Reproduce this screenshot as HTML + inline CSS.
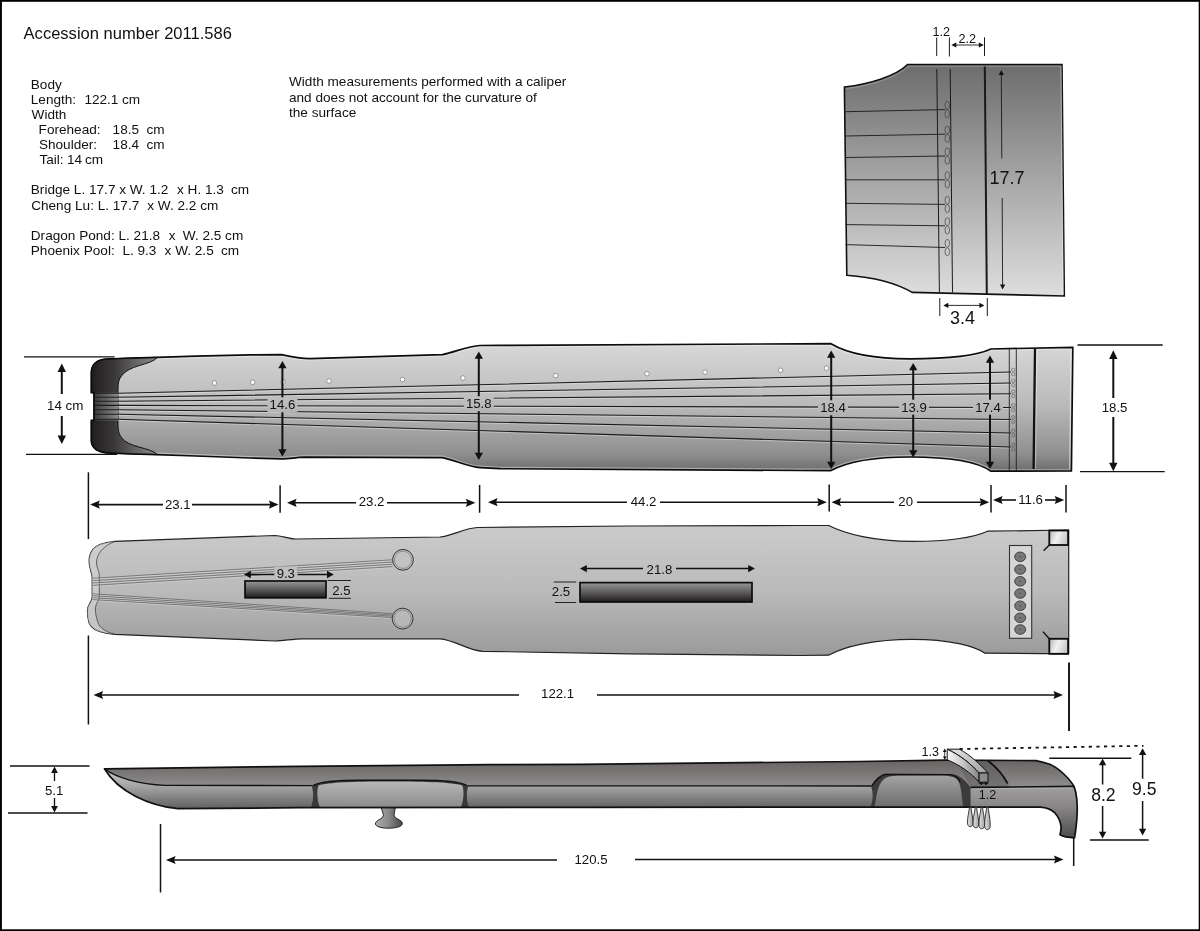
<!DOCTYPE html>
<html><head><meta charset="utf-8">
<style>
html,body{margin:0;padding:0;background:#fff;}
body{width:1200px;height:931px;overflow:hidden;position:relative;font-family:"Liberation Sans",sans-serif;}
svg{position:absolute;left:0;top:0;display:block;will-change:transform;}
svg text{font-family:"Liberation Sans",sans-serif;fill:#111;}
</style></head><body>
<svg width="1200" height="931" viewBox="0 0 1200 931">
<defs>
<linearGradient id="gTop" x1="0" y1="343" x2="0" y2="472" gradientUnits="userSpaceOnUse">
<stop offset="0" stop-color="#d8d8d8"/><stop offset="0.48" stop-color="#bbbaba"/><stop offset="0.86" stop-color="#908f8f"/><stop offset="1" stop-color="#6c6a6a"/></linearGradient>
<linearGradient id="gTail" x1="91" y1="0" x2="158" y2="0" gradientUnits="userSpaceOnUse">
<stop offset="0" stop-color="#1e1c1c"/><stop offset="0.35" stop-color="#3a3838"/><stop offset="0.7" stop-color="#6a6868"/><stop offset="1" stop-color="#8c8c8c"/></linearGradient>
<linearGradient id="gBot" x1="0" y1="526" x2="0" y2="656" gradientUnits="userSpaceOnUse">
<stop offset="0" stop-color="#cbcbcb"/><stop offset="0.5" stop-color="#bbbaba"/><stop offset="1" stop-color="#9b9a9a"/></linearGradient>
<linearGradient id="gPool" x1="0" y1="0" x2="0" y2="1">
<stop offset="0" stop-color="#989898"/><stop offset="0.5" stop-color="#5e5c5c"/><stop offset="1" stop-color="#1c1a1a"/></linearGradient>
<linearGradient id="gInset" x1="0" y1="64" x2="0" y2="296" gradientUnits="userSpaceOnUse">
<stop offset="0" stop-color="#6c6c6c"/><stop offset="0.5" stop-color="#a6a6a6"/><stop offset="1" stop-color="#dedede"/></linearGradient>
<linearGradient id="gSideTop" x1="0" y1="760" x2="0" y2="787" gradientUnits="userSpaceOnUse">
<stop offset="0" stop-color="#686464"/><stop offset="1" stop-color="#8e8c8c"/></linearGradient>
<linearGradient id="gSideLow" x1="0" y1="770" x2="0" y2="808" gradientUnits="userSpaceOnUse">
<stop offset="0" stop-color="#c8c8c8"/><stop offset="0.42" stop-color="#a6a6a6"/><stop offset="1" stop-color="#646262"/></linearGradient>
<linearGradient id="gBulge" x1="0" y1="778" x2="0" y2="808" gradientUnits="userSpaceOnUse">
<stop offset="0" stop-color="#bdbdbd"/><stop offset="1" stop-color="#8a8a8a"/></linearGradient>
<linearGradient id="gSq" x1="0" y1="0" x2="1" y2="0.3">
<stop offset="0" stop-color="#b4b4b4"/><stop offset="0.5" stop-color="#f2f2f2"/><stop offset="1" stop-color="#cacaca"/></linearGradient>
<path id="ah" d="M0,0 L-4.15,7.2 L4.15,7.2 Z"/><path id="ahb" d="M0,0 L-4.1,9.6 L0,8.1 L4.1,9.6 Z"/><path id="ah7" d="M0,0 L-3.65,6.8 L3.65,6.8 Z"/><path id="ah8" d="M0,0 L-4.2,8.6 L4.2,8.6 Z"/>
<path id="ahs" d="M0,0 L-2.6,5 L2.6,5 Z"/>
<linearGradient id="gHead" x1="0" y1="787" x2="0" y2="838" gradientUnits="userSpaceOnUse">
<stop offset="0" stop-color="#a09e9e"/><stop offset="0.4" stop-color="#878585"/><stop offset="1" stop-color="#4e4c4c"/></linearGradient>
<linearGradient id="gBulge2" x1="0" y1="775" x2="0" y2="808" gradientUnits="userSpaceOnUse">
<stop offset="0" stop-color="#a4a4a4"/><stop offset="1" stop-color="#6c6a6a"/></linearGradient>
<linearGradient id="gBridge" x1="947" y1="0" x2="980" y2="0" gradientUnits="userSpaceOnUse">
<stop offset="0" stop-color="#fafafa"/><stop offset="0.5" stop-color="#c4c4c4"/><stop offset="1" stop-color="#807e7e"/></linearGradient>
<linearGradient id="gBridgeTop" x1="950" y1="749" x2="986" y2="773" gradientUnits="userSpaceOnUse">
<stop offset="0" stop-color="#e8e8e8"/><stop offset="1" stop-color="#a2a0a0"/></linearGradient>
<linearGradient id="gFoot" x1="375" y1="0" x2="402" y2="0" gradientUnits="userSpaceOnUse">
<stop offset="0" stop-color="#b0b0b0"/><stop offset="0.5" stop-color="#8a8888"/><stop offset="1" stop-color="#4a4848"/></linearGradient>
<linearGradient id="gPeg" x1="0" y1="0" x2="1" y2="0">
<stop offset="0" stop-color="#e2e2e2"/><stop offset="1" stop-color="#a4a4a4"/></linearGradient>
<path id="ahm" d="M0,0 L-3.4,6.5 L3.4,6.5 Z"/>
<path id="ahx" d="M0,0 L-1.8,3.4 L1.8,3.4 Z"/>
<linearGradient id="gBand" x1="94" y1="0" x2="118" y2="0" gradientUnits="userSpaceOnUse">
<stop offset="0" stop-color="#3c3a3a"/><stop offset="1" stop-color="#8a8888"/></linearGradient>
<clipPath id="cpTop"><path d="M91.3,392.7 L91.3,373 C91.3,364 96,360 106,359 L131.5,358 L157,357.3 L196,356.2 L250,354.9 L281.5,354.7 C292,357 300,358.6 310,358.6 L442.5,354.6 C455,352 468,346 480,345.5 L500,345.4 L800,343.8 L831,343.7 C845,352 870,358.8 910,358.8 C950,358.8 978,355 991,349 L1072.8,347.3 L1071.4,471 L991,471.2 C978,462 950,457 910,457 C870,457 845,463 831,470.6 L800,470.5 L500,468.7 L480,467.6 C468,467 455,460 442.5,457.6 L304,457.2 C296,457.4 290,458.8 282.5,458.9 L250,458 L196,456 L157,454.6 L131.5,454 L106,452.8 C96,451.5 91.3,448 91.3,440 L91.3,420.4 L94,420.4 L94,392.7 Z"/></clipPath>
</defs>

<!-- border -->
<rect x="0" y="0" width="1200" height="931" fill="#fff"/>
<rect x="0" y="0" width="1200" height="1.8" fill="#000"/><rect x="0" y="0" width="1.9" height="931" fill="#000"/><rect x="1198.7" y="0" width="1.3" height="931" fill="#000"/><rect x="0" y="929.3" width="1200" height="1.7" fill="#000"/>

<!-- TEXT -->
<g id="textblock">
<text x="23.6" y="39" font-size="16.55">Accession number 2011.586</text>
<g font-size="13.6" style="white-space:pre">
<text y="88.6"><tspan x="30.8">Body</tspan></text>
<text y="103.8"><tspan x="30.8">Length:</tspan><tspan x="84.4">122.1</tspan><tspan x="121.9">cm</tspan></text>
<text y="118.8"><tspan x="31.6">Width</tspan></text>
<text y="133.9"><tspan x="38.6">Forehead:</tspan><tspan x="112.6">18.5</tspan><tspan x="146.5">cm</tspan></text>
<text y="149.1"><tspan x="38.9">Shoulder:</tspan><tspan x="112.6">18.4</tspan><tspan x="146.5">cm</tspan></text>
<text y="164.3"><tspan x="39.4">Tail:</tspan><tspan x="67">14</tspan><tspan x="85">cm</tspan></text>
<text y="194.4"><tspan x="30.8">Bridge L. 17.7 x W. 1.2</tspan><tspan x="177">x H. 1.3</tspan><tspan x="230.9">cm</tspan></text>
<text y="209.5"><tspan x="31.2">Cheng Lu: L. 17.7</tspan><tspan x="147.3">x W. 2.2 cm</tspan></text>
<text y="239.7"><tspan x="30.8">Dragon Pond: L. 21.8</tspan><tspan x="168.8">x</tspan><tspan x="182.8">W. 2.5 cm</tspan></text>
<text y="254.9"><tspan x="30.8">Phoenix Pool:</tspan><tspan x="122.4">L. 9.3</tspan><tspan x="164.6">x W. 2.5</tspan><tspan x="220.9">cm</tspan></text>
<text x="289" y="86">Width measurements performed with a caliper</text>
<text x="289" y="101.5">and does not account for the curvature of</text>
<text x="289" y="117">the surface</text>
</g>
</g>

<g id="inset">
<path d="M844.4,87 C870,84 896,76 907.5,64.5 L1062,64.5 L1064.3,296 L912.3,292.4 C896,283 872,277 846.8,275.2 Z" fill="url(#gInset)" stroke="#111" stroke-width="1.6" stroke-linejoin="miter"/>
<path d="M846.2,88.5 C871,85.5 897,77.5 908.2,66.2 L1060.4,66.2" fill="none" stroke="#fff" stroke-opacity="0.25" stroke-width="1"/>
<line x1="1061" y1="66" x2="1063.2" y2="294.5" stroke="#fff" stroke-opacity="0.45" stroke-width="1.2"/>
<g stroke="#1a1a1a" stroke-width="0.9" fill="none"><line x1="845.5" y1="111.7" x2="945" y2="109.6"/><line x1="845.5" y1="136" x2="945" y2="134.2"/><line x1="845.5" y1="157.5" x2="945" y2="156"/><line x1="845.5" y1="179.8" x2="945" y2="179.8"/><line x1="845.5" y1="203.3" x2="945" y2="204.4"/><line x1="845.5" y1="224.6" x2="945" y2="225.8"/><line x1="845.5" y1="244.6" x2="945" y2="247.5"/></g>
<g stroke="#333" stroke-width="0.6" fill="none"><ellipse cx="947.3" cy="105.4" rx="2.3" ry="4"/><ellipse cx="947.3" cy="113.8" rx="2.3" ry="4"/><ellipse cx="947.3" cy="130.0" rx="2.3" ry="4"/><ellipse cx="947.3" cy="138.4" rx="2.3" ry="4"/><ellipse cx="947.3" cy="151.8" rx="2.3" ry="4"/><ellipse cx="947.3" cy="160.2" rx="2.3" ry="4"/><ellipse cx="947.3" cy="175.6" rx="2.3" ry="4"/><ellipse cx="947.3" cy="184.0" rx="2.3" ry="4"/><ellipse cx="947.3" cy="200.2" rx="2.3" ry="4"/><ellipse cx="947.3" cy="208.6" rx="2.3" ry="4"/><ellipse cx="947.3" cy="221.6" rx="2.3" ry="4"/><ellipse cx="947.3" cy="230.0" rx="2.3" ry="4"/><ellipse cx="947.3" cy="243.3" rx="2.3" ry="4"/><ellipse cx="947.3" cy="251.7" rx="2.3" ry="4"/></g>
<g stroke="#1a1a1a" fill="none">
<line x1="936.8" y1="69" x2="939.4" y2="292.5" stroke-width="1"/>
<line x1="950.2" y1="69" x2="952.5" y2="292.5" stroke-width="1"/>
<line x1="984.8" y1="66.5" x2="986.8" y2="294" stroke-width="2"/>
<line x1="936.7" y1="37.5" x2="936.7" y2="56" stroke-width="1"/>
<line x1="949.4" y1="37.5" x2="949.4" y2="56.5" stroke-width="1"/>
<line x1="984.5" y1="37.3" x2="984.5" y2="56" stroke-width="1"/>
<line x1="953" y1="45" x2="982" y2="45" stroke-width="0.9"/>
<line x1="1001.3" y1="73" x2="1001.8" y2="158.5" stroke-width="0.9"/>
<line x1="1002.2" y1="198" x2="1002.6" y2="286.5" stroke-width="0.9"/>
<line x1="939.8" y1="298" x2="939.8" y2="316" stroke-width="1"/>
<line x1="987.3" y1="298" x2="987.3" y2="316" stroke-width="1"/>
<line x1="946" y1="305.4" x2="982" y2="305.4" stroke-width="0.9"/>
</g>
<g fill="#111">
<use href="#ahs" transform="translate(951.3,45) rotate(-90)"/>
<use href="#ahs" transform="translate(983.8,45) rotate(90)"/>
<use href="#ahs" transform="translate(1001.3,70)"/>
<use href="#ahs" transform="translate(1002.6,289.6) rotate(180)"/>
<use href="#ahs" transform="translate(943.3,305.4) rotate(-90)"/>
<use href="#ahs" transform="translate(984.4,305.4) rotate(90)"/>
</g>
<text x="932.6" y="36.2" font-size="12.6">1.2</text>
<text x="958.6" y="43" font-size="12.6">2.2</text>
<text x="989.4" y="184.3" font-size="18">17.7</text>
<text x="950" y="323.6" font-size="18">3.4</text>
</g>
<!--INSET-->
<g id="topview">
<path d="M91.3,392.7 L91.3,373 C91.3,364 96,360 106,359 L131.5,358 L157,357.3 L196,356.2 L250,354.9 L281.5,354.7 C292,357 300,358.6 310,358.6 L442.5,354.6 C455,352 468,346 480,345.5 L500,345.4 L800,343.8 L831,343.7 C845,352 870,358.8 910,358.8 C950,358.8 978,355 991,349 L1072.8,347.3 L1071.4,471 L991,471.2 C978,462 950,457 910,457 C870,457 845,463 831,470.6 L800,470.5 L500,468.7 L480,467.6 C468,467 455,460 442.5,457.6 L304,457.2 C296,457.4 290,458.8 282.5,458.9 L250,458 L196,456 L157,454.6 L131.5,454 L106,452.8 C96,451.5 91.3,448 91.3,440 L91.3,420.4 L94,420.4 L94,392.7 Z" fill="url(#gTop)" stroke="none"/>
<path d="M91.3,392.7 L91.3,373 C91.3,364 96,360 106,359 L131.5,358 L157,357.3 L196,356.2 L250,354.9 L281.5,354.7 C292,357 300,358.6 310,358.6 L442.5,354.6 C455,352 468,346 480,345.5 L500,345.4 L800,343.8 L831,343.7 C845,352 870,358.8 910,358.8 C950,358.8 978,355 991,349 L1072.8,347.3 L1071.4,471 L991,471.2 C978,462 950,457 910,457 C870,457 845,463 831,470.6 L800,470.5 L500,468.7 L480,467.6 C468,467 455,460 442.5,457.6 L304,457.2 C296,457.4 290,458.8 282.5,458.9 L250,458 L196,456 L157,454.6 L131.5,454 L106,452.8 C96,451.5 91.3,448 91.3,440 L91.3,420.4 L94,420.4 L94,392.7 Z" fill="none" stroke="#fff" stroke-opacity="0.4" stroke-width="4" clip-path="url(#cpTop)" transform="translate(0,0)"/>
<path d="M91.3,392.7 L91.3,373 C91.3,364 96,360 106,359 L131.5,358 L157.5,357.3 C150,366 128,364 120,378 C118,382 118,386 118,392 L118,421 C118,428 118,432 121,437 C128,448 150,447 157.5,454.6 L131.5,454 L106,452.8 C96,451.5 91.3,448 91.3,440 L91.3,420.4 L94,420.4 L94,392.7 Z" fill="url(#gTail)" stroke="#111" stroke-width="1"/>
<rect x="94" y="392.7" width="24" height="27.7" fill="url(#gBand)"/>
<g stroke="#e8e8e8" stroke-opacity="0.55" stroke-width="0.9" fill="none"><polyline points="118,394.4 1011,373.1"/><polyline points="118,398.4 1011,384.1"/><polyline points="118,402.3 1011,394.9"/><polyline points="118,406.5 1011,408.6"/><polyline points="118,410.9 1011,420.6"/><polyline points="118,415.3 1011,434.1"/><polyline points="118,420.4 1011,448.1"/></g><g stroke="#1c1c1c" stroke-width="1.1" fill="none"><polyline points="94.5,393.3 118,393.3 1011,372"/><polyline points="94.5,397.3 118,397.3 1011,383"/><polyline points="94.5,401.2 118,401.2 1011,393.8"/><polyline points="94.5,405.4 118,405.4 1011,407.5"/><polyline points="94.5,409.8 118,409.8 1011,419.5"/><polyline points="94.5,414.2 118,414.2 1011,433"/><polyline points="94.5,419.3 118,419.3 1011,447"/></g>
<path d="M91.3,392.7 L91.3,373 C91.3,364 96,360 106,359 L131.5,358 L157,357.3 L196,356.2 L250,354.9 L281.5,354.7 C292,357 300,358.6 310,358.6 L442.5,354.6 C455,352 468,346 480,345.5 L500,345.4 L800,343.8 L831,343.7 C845,352 870,358.8 910,358.8 C950,358.8 978,355 991,349 L1072.8,347.3 L1071.4,471 L991,471.2 C978,462 950,457 910,457 C870,457 845,463 831,470.6 L800,470.5 L500,468.7 L480,467.6 C468,467 455,460 442.5,457.6 L304,457.2 C296,457.4 290,458.8 282.5,458.9 L250,458 L196,456 L157,454.6 L131.5,454 L106,452.8 C96,451.5 91.3,448 91.3,440 L91.3,420.4 L94,420.4 L94,392.7 Z" fill="none" stroke="#0c0c0c" stroke-width="1.7" stroke-linejoin="round"/>
<g fill="#fff" stroke="#777" stroke-width="0.7"><circle cx="214.5" cy="383" r="2.3"/><circle cx="252.7" cy="382.3" r="2.3"/><circle cx="283" cy="382" r="2.3"/><circle cx="329" cy="381" r="2.3"/><circle cx="402.5" cy="379.5" r="2.3"/><circle cx="463" cy="378" r="2.3"/><circle cx="555.7" cy="375.5" r="2.3"/><circle cx="647" cy="373.7" r="2.3"/><circle cx="705" cy="372.2" r="2.3"/><circle cx="780.6" cy="370.3" r="2.3"/><circle cx="826.5" cy="368.2" r="2.3"/></g>
<g stroke="#222" fill="none">
<line x1="1009.3" y1="348.8" x2="1009.3" y2="470.6" stroke-width="0.9"/>
<line x1="1016.3" y1="348.6" x2="1016.3" y2="470.6" stroke-width="0.9"/>
<line x1="1035" y1="348.4" x2="1033.6" y2="469" stroke-width="2.3" stroke="#111"/>
</g>
<g stroke="#fff" stroke-opacity="0.4" stroke-width="1" fill="none"><line x1="1036.9" y1="349.5" x2="1035.5" y2="468.5"/><line x1="1070.9" y1="349" x2="1069.6" y2="469"/></g><g stroke="#444" stroke-width="0.5" fill="none"><circle cx="1013.2" cy="369.8" r="1.7"/><circle cx="1013.2" cy="374.2" r="1.7"/><circle cx="1013.2" cy="380.8" r="1.7"/><circle cx="1013.2" cy="385.2" r="1.7"/><circle cx="1013.2" cy="391.6" r="1.7"/><circle cx="1013.2" cy="396.0" r="1.7"/><circle cx="1013.2" cy="405.3" r="1.7"/><circle cx="1013.2" cy="409.7" r="1.7"/><circle cx="1013.2" cy="417.3" r="1.7"/><circle cx="1013.2" cy="421.7" r="1.7"/><circle cx="1013.2" cy="430.8" r="1.7"/><circle cx="1013.2" cy="435.2" r="1.7"/><circle cx="1013.2" cy="444.8" r="1.7"/><circle cx="1013.2" cy="449.2" r="1.7"/></g>
<line x1="282.4" y1="367" x2="282.4" y2="450.5" stroke="#111" stroke-width="2"/><use href="#ah" transform="translate(282.4,361)" fill="#111"/><use href="#ah" transform="translate(282.4,456.5) rotate(180)" fill="#111"/>
<line x1="478.8" y1="357.5" x2="478.8" y2="454" stroke="#111" stroke-width="2"/><use href="#ah" transform="translate(478.8,351.5)" fill="#111"/><use href="#ah" transform="translate(478.8,460) rotate(180)" fill="#111"/>
<line x1="831.2" y1="356.5" x2="831.2" y2="463" stroke="#111" stroke-width="2"/><use href="#ah" transform="translate(831.2,350.5)" fill="#111"/><use href="#ah" transform="translate(831.2,469) rotate(180)" fill="#111"/>
<line x1="913.2" y1="369" x2="913.2" y2="451.5" stroke="#111" stroke-width="2"/><use href="#ah" transform="translate(913.2,363)" fill="#111"/><use href="#ah" transform="translate(913.2,457.5) rotate(180)" fill="#111"/>
<line x1="990" y1="361.5" x2="990" y2="463" stroke="#111" stroke-width="2"/><use href="#ah" transform="translate(990,355.5)" fill="#111"/><use href="#ah" transform="translate(990,469) rotate(180)" fill="#111"/>
<rect x="267.4" y="397.3" width="30" height="15" fill="url(#gTop)"/><text x="282.4" y="409.3" font-size="13.2" text-anchor="middle">14.6</text>
<rect x="463.8" y="396.2" width="30" height="15" fill="url(#gTop)"/><text x="478.8" y="408.2" font-size="13.2" text-anchor="middle">15.8</text>
<rect x="818.0" y="400.3" width="30" height="15" fill="url(#gTop)"/><text x="833" y="412.3" font-size="13.2" text-anchor="middle">18.4</text>
<rect x="899.0" y="399.7" width="30" height="15" fill="url(#gTop)"/><text x="914" y="411.7" font-size="13.2" text-anchor="middle">13.9</text>
<rect x="973.0" y="399.7" width="30" height="15" fill="url(#gTop)"/><text x="988" y="411.7" font-size="13.2" text-anchor="middle">17.4</text>
<!-- 14 cm -->
<g stroke="#111" stroke-width="1.3">
<line x1="24" y1="356.8" x2="114.5" y2="356.8"/><line x1="26" y1="454.3" x2="117" y2="454.3"/>
<line x1="1077.5" y1="345" x2="1162.7" y2="345"/><line x1="1080" y1="471.7" x2="1164.7" y2="471.7"/>
</g>
<line x1="61.8" y1="369" x2="61.8" y2="394" stroke="#111" stroke-width="2"/>
<line x1="61.8" y1="416" x2="61.8" y2="438" stroke="#111" stroke-width="2"/>
<use href="#ah8" transform="translate(61.8,363.5)" fill="#111"/>
<use href="#ah8" transform="translate(61.8,444) rotate(180)" fill="#111"/>
<text x="65.2" y="409.5" font-size="13.4" text-anchor="middle">14 cm</text>
<line x1="1113.3" y1="356" x2="1113.3" y2="398" stroke="#111" stroke-width="2"/>
<line x1="1113.3" y1="417" x2="1113.3" y2="465.5" stroke="#111" stroke-width="2"/>
<use href="#ah8" transform="translate(1113.3,350.3)" fill="#111"/>
<use href="#ah8" transform="translate(1113.3,471.3) rotate(180)" fill="#111"/>
<text x="1114.6" y="411.6" font-size="13.2" text-anchor="middle">18.5</text>
</g>
<!--TOPVIEW-->
<g id="dimrow">
<g stroke="#111" stroke-width="1.5">
<line x1="88.4" y1="472.3" x2="88.4" y2="539"/>
<line x1="88.4" y1="635.5" x2="88.4" y2="724.5"/>
<line x1="280.1" y1="485.2" x2="280.1" y2="512.7"/>
<line x1="479.6" y1="485" x2="479.6" y2="512.7"/>
<line x1="829.2" y1="484.6" x2="829.2" y2="511.5"/>
<line x1="991" y1="485" x2="991" y2="512.6"/>
<line x1="1066" y1="485" x2="1066" y2="512.6"/>
<line x1="1069" y1="662.5" x2="1069" y2="731" stroke-width="1.9"/>
</g>
<line x1="96.2" y1="504.6" x2="163" y2="504.6" stroke="#111" stroke-width="1.6"/><line x1="192" y1="504.6" x2="272.5" y2="504.6" stroke="#111" stroke-width="1.6"/><use href="#ahb" transform="translate(90.2,504.6) rotate(-90)" fill="#111"/><use href="#ahb" transform="translate(278.5,504.6) rotate(90)" fill="#111"/>
<line x1="293" y1="502.8" x2="356" y2="502.8" stroke="#111" stroke-width="1.6"/><line x1="387" y1="502.8" x2="469.4" y2="502.8" stroke="#111" stroke-width="1.6"/><use href="#ahb" transform="translate(287,502.8) rotate(-90)" fill="#111"/><use href="#ahb" transform="translate(475.4,502.8) rotate(90)" fill="#111"/>
<line x1="494" y1="502.2" x2="627" y2="502.2" stroke="#111" stroke-width="1.6"/><line x1="660" y1="502.2" x2="820.8" y2="502.2" stroke="#111" stroke-width="1.6"/><use href="#ahb" transform="translate(488,502.2) rotate(-90)" fill="#111"/><use href="#ahb" transform="translate(826.8,502.2) rotate(90)" fill="#111"/>
<line x1="837.5" y1="502.2" x2="894" y2="502.2" stroke="#111" stroke-width="1.6"/><line x1="917" y1="502.2" x2="983.2" y2="502.2" stroke="#111" stroke-width="1.6"/><use href="#ahb" transform="translate(831.5,502.2) rotate(-90)" fill="#111"/><use href="#ahb" transform="translate(989.2,502.2) rotate(90)" fill="#111"/>
<line x1="999" y1="500" x2="1016" y2="500" stroke="#111" stroke-width="1.6"/><line x1="1045" y1="500" x2="1058.3" y2="500" stroke="#111" stroke-width="1.6"/><use href="#ahb" transform="translate(993,500) rotate(-90)" fill="#111"/><use href="#ahb" transform="translate(1064.3,500) rotate(90)" fill="#111"/>
<g font-size="13.2" text-anchor="middle">
<text x="177.8" y="509.2">23.1</text>
<text x="371.6" y="506.2">23.2</text>
<text x="643.6" y="506.4">44.2</text>
<text x="905.7" y="506.4">20</text>
<text x="1030.6" y="504.2">11.6</text>
<text x="557.6" y="698.4">122.1</text>
</g>
<line x1="99.5" y1="695" x2="519" y2="695" stroke="#111" stroke-width="1.6"/><line x1="597" y1="695" x2="1057" y2="695" stroke="#111" stroke-width="1.6"/><use href="#ahb" transform="translate(93.5,695) rotate(-90)" fill="#111"/><use href="#ahb" transform="translate(1063,695) rotate(90)" fill="#111"/>
</g>
<!--DIMROW-->
<g id="bottomview">
<path d="M114.8,541.3 C104,542.5 96,545 92.9,549.3 C89.5,554 88.8,559 89.3,563.5 C89.8,569 92,573 92.2,577.7 L92.2,597 C92,602 87.5,605 87.5,610 C87.3,615 88,619 89,622.8 C91,628 97,631.5 105.8,633.1 L114.8,634.4 L275,641 C284,641 292,638.8 302.5,638.8 L440,638.8 C455,640 468,650.5 482.5,651.3 L630,653.8 L800,655.5 L828.5,655.2 C845,646 875,639.3 912,639.3 C950,639.3 975,646 985,653.2 L1068.7,653.8 L1068.7,530 L987.5,531.2 C975,537 950,541.3 912.5,541.3 C875,541.3 845,534 828.8,525.5 L800,525.5 L630,526 L477.5,527.5 C465,528 452,536 440,537 L296,539 C288,539 282,535.6 275,535.5 Z" fill="url(#gBot)" stroke="#222" stroke-width="1.2" stroke-linejoin="round"/>
<path d="M114.8,541.3 C104,542.5 96,545 92.9,549.3 C89.5,554 88.8,559 89.3,563.5 C89.8,569 92,573 92.2,577.7 L92.2,597 C92,602 87.5,605 87.5,610 C87.3,615 88,619 89,622.8 C91,628 97,631.5 105.8,633.1 L114.8,634.4 C106,632 100,628 98,622.8 C96.5,618 95,613 95.5,607.3 C95.8,603.5 99,601 99.3,597 L99.3,575.1 C99,570 95.5,566 96.8,559.6 C98.5,551 106,545 114.8,541.3 Z" fill="#d2d2d2" opacity="0.7"/><path d="M114.8,541.3 C106,545 98.5,551 96.8,559.6 C95.5,566 99,570 99.3,575.1 L99.3,597 C99,601 95.8,603.5 95.5,607.3 C95,613 96.5,618 98,622.8 C100,628 106,632 114.8,634.4" fill="none" stroke="#444" stroke-width="0.8"/>
<g stroke="#e4e4e4" stroke-opacity="0.6" stroke-width="0.7" fill="none"><line x1="92.5" y1="579.2" x2="392.5" y2="560.7"/><line x1="92.5" y1="581.6" x2="392.5" y2="563.0"/><line x1="92.5" y1="583.9" x2="392.5" y2="565.2"/><line x1="92.5" y1="586.3" x2="392.5" y2="567.5"/><line x1="92.5" y1="594.7" x2="392.5" y2="614.6"/><line x1="92.5" y1="596.6" x2="392.5" y2="615.9"/><line x1="92.5" y1="598.6" x2="392.5" y2="617.1"/><line x1="92.5" y1="600.5" x2="392.5" y2="618.4"/></g><g stroke="#5a5a5a" stroke-width="0.7" fill="none"><line x1="92.5" y1="578.3" x2="392.5" y2="559.8"/><line x1="92.5" y1="580.7" x2="392.5" y2="562.1"/><line x1="92.5" y1="583.0" x2="392.5" y2="564.3"/><line x1="92.5" y1="585.4" x2="392.5" y2="566.6"/><line x1="92.5" y1="593.8" x2="392.5" y2="613.7"/><line x1="92.5" y1="595.7" x2="392.5" y2="615.0"/><line x1="92.5" y1="597.7" x2="392.5" y2="616.2"/><line x1="92.5" y1="599.6" x2="392.5" y2="617.5"/></g>
<circle cx="403" cy="559.8" r="10.4" fill="#c2c2c2" stroke="#333" stroke-width="1"/><circle cx="403" cy="559.8" r="8.6" fill="none" stroke="#777" stroke-width="0.7"/>
<circle cx="402.6" cy="618.6" r="10.4" fill="#b8b8b8" stroke="#333" stroke-width="1"/><circle cx="402.6" cy="618.6" r="8.6" fill="none" stroke="#777" stroke-width="0.7"/>
<rect x="245" y="581" width="81" height="16.8" fill="url(#gPool)" stroke="#0c0c0c" stroke-width="1.7"/>
<rect x="580" y="582.6" width="172" height="19.4" fill="url(#gPool)" stroke="#0c0c0c" stroke-width="1.7"/>
<g stroke="#222" stroke-width="1">
<line x1="327.5" y1="580.5" x2="351" y2="580.5"/><line x1="328.8" y1="598.3" x2="351" y2="598.3"/>
<line x1="553.8" y1="582" x2="576.3" y2="582"/><line x1="555" y1="602.5" x2="576.3" y2="602.5"/>
</g>
<line x1="250" y1="574.5" x2="274.5" y2="574.5" stroke="#111" stroke-width="1.5"/><line x1="297.5" y1="574.5" x2="327.8" y2="574.5" stroke="#111" stroke-width="1.5"/><use href="#ah7" transform="translate(244,574.5) rotate(-90)" fill="#111"/><use href="#ah7" transform="translate(333.8,574.5) rotate(90)" fill="#111"/>
<line x1="586" y1="568.6" x2="643" y2="568.6" stroke="#111" stroke-width="1.5"/><line x1="676" y1="568.6" x2="749" y2="568.6" stroke="#111" stroke-width="1.5"/><use href="#ah7" transform="translate(580,568.6) rotate(-90)" fill="#111"/><use href="#ah7" transform="translate(755,568.6) rotate(90)" fill="#111"/>
<rect x="274.5" y="566.5" width="22.5" height="12" fill="url(#gBot)"/>
<g font-size="13.2" text-anchor="middle">
<text x="285.8" y="577.5">9.3</text><text x="341.4" y="594.6">2.5</text>
<text x="561" y="596.4">2.5</text><text x="659.4" y="573.6">21.8</text>
</g>
<rect x="1009.5" y="545.5" width="22.2" height="92.8" fill="#d6d6d6" stroke="#333" stroke-width="1.1"/>
<ellipse cx="1020.2" cy="556.8" rx="5.5" ry="4.8" fill="#787676" stroke="#3a3a3a" stroke-width="0.9"/><circle cx="1020.2" cy="556.8" r="0.8" fill="#4a4a4a"/><ellipse cx="1020.2" cy="569.5" rx="5.5" ry="4.8" fill="#787676" stroke="#3a3a3a" stroke-width="0.9"/><circle cx="1020.2" cy="569.5" r="0.8" fill="#4a4a4a"/><ellipse cx="1020.2" cy="581.3" rx="5.5" ry="4.8" fill="#787676" stroke="#3a3a3a" stroke-width="0.9"/><circle cx="1020.2" cy="581.3" r="0.8" fill="#4a4a4a"/><ellipse cx="1020.2" cy="593.5" rx="5.5" ry="4.8" fill="#787676" stroke="#3a3a3a" stroke-width="0.9"/><circle cx="1020.2" cy="593.5" r="0.8" fill="#4a4a4a"/><ellipse cx="1020.2" cy="605.8" rx="5.5" ry="4.8" fill="#787676" stroke="#3a3a3a" stroke-width="0.9"/><circle cx="1020.2" cy="605.8" r="0.8" fill="#4a4a4a"/><ellipse cx="1020.2" cy="617.8" rx="5.5" ry="4.8" fill="#787676" stroke="#3a3a3a" stroke-width="0.9"/><circle cx="1020.2" cy="617.8" r="0.8" fill="#4a4a4a"/><ellipse cx="1020.2" cy="629.5" rx="5.5" ry="4.8" fill="#787676" stroke="#3a3a3a" stroke-width="0.9"/><circle cx="1020.2" cy="629.5" r="0.8" fill="#4a4a4a"/>
<rect x="1049.3" y="530.5" width="18.8" height="14.5" fill="url(#gSq)" stroke="#0a0a0a" stroke-width="1.8"/>
<rect x="1049.3" y="638.8" width="18.8" height="15" fill="url(#gSq)" stroke="#0a0a0a" stroke-width="1.8"/>
<line x1="1049.3" y1="545" x2="1043.6" y2="550.8" stroke="#111" stroke-width="1.4"/>
<line x1="1049.3" y1="638.8" x2="1043" y2="631.6" stroke="#111" stroke-width="1.4"/>
</g>
<!--BOTTOMVIEW-->
<g id="sideview">
<path d="M104.5,768.8 L300,766.3 L490,764.7 L580,764.3 L860,761.5 L946,760.1 L1036,760.6 C1041,761.6 1045.5,762.8 1049.8,764.3 C1055,766.5 1059.5,770 1063.8,774 C1068,778 1071.5,782 1074,786.4 C1075.6,790.5 1076.4,795 1076.7,798.7 C1077.2,803 1077.3,807 1077.2,811.6 C1077.1,817 1076.7,822 1076.1,826.6 C1075.7,830.5 1075.1,834.5 1074.5,837.9 L1065.9,836.8 C1063.5,836.3 1061.5,835.6 1060,834.7 C1061,831 1061.2,829 1061.1,826.6 C1060.8,824.3 1060.3,822.2 1059.5,820.2 C1058.5,817.6 1057,815.3 1055.2,813.2 C1053.3,811.3 1051.1,809.9 1048.7,808.9 C1046,807.8 1043.2,807.3 1040.2,807.1 L580,807.3 L300,807.7 L178,808.7 C150,806 118,792 104.5,768.8 Z" fill="url(#gSideLow)" stroke="none"/>
<path d="M104.5,768.8 L300,766.3 L490,764.7 L580,764.3 L860,761.5 L946,760.1 L1036,760.6 C1041,761.6 1045.5,762.8 1049.8,764.3 C1055,766.5 1059.5,770 1063.8,774 C1068,778 1071.5,782 1074,786.4 L970.5,787.3 L871,786 L300,785.6 L165,785.4 C140,784 116,778 104.5,768.8 Z" fill="url(#gSideTop)" stroke="none"/>
<path d="M970.5,787.3 L1074,786.4 C1075.6,790.5 1076.4,795 1076.7,798.7 C1077.2,803 1077.3,807 1077.2,811.6 C1077.1,817 1076.7,822 1076.1,826.6 C1075.7,830.5 1075.1,834.5 1074.5,837.9 L1065.9,836.8 C1063.5,836.3 1061.5,835.6 1060,834.7 C1061,831 1061.2,829 1061.1,826.6 C1060.8,824.3 1060.3,822.2 1059.5,820.2 C1058.5,817.6 1057,815.3 1055.2,813.2 C1053.3,811.3 1051.1,809.9 1048.7,808.9 C1046,807.8 1043.2,807.3 1040.2,807.1 L970.5,807.3 Z" fill="url(#gHead)"/>
<!-- darker band between bridge and curve on head top -->
<path d="M956,760.3 L987.5,760.6 C996,766.5 1003,775 1007.7,783.5 L1010,786.9 L970.5,787.2 Z" fill="#5e5c5c" opacity="0.55"/>
<!-- inner dividing line -->
<path d="M104.5,768.8 C116,778 140,784 165,785.4 L313,785.6" fill="none" stroke="#111" stroke-width="1.3"/>
<line x1="466.5" y1="785.8" x2="872" y2="786" stroke="#111" stroke-width="1.3"/>
<line x1="970.5" y1="787.4" x2="1074" y2="786.4" stroke="#111" stroke-width="1.6"/>
<line x1="972" y1="788.8" x2="1072" y2="787.9" stroke="#c8c8c8" stroke-opacity="0.5" stroke-width="1"/>
<!-- waist bulge 1 -->
<path d="M311.5,785.5 L317.5,784 C330,781.2 350,780.2 390,780.2 C430,780.2 450,781.2 463.3,784 L468.5,785.6 C466,792 466.5,801 469,807.5 L311,807.5 C313.5,801 314,792 311.5,785.5 Z" fill="#3a3838"/>
<path d="M320,807.5 C317.3,801 316.3,791 318.5,785.4 C330,782.6 350,781.6 390,781.6 C430,781.6 450,782.6 462.3,785.4 C464.5,791 463.5,801 460.8,807.5 Z" fill="url(#gBulge)"/>
<path d="M313.5,785.3 C320,782 335,780.4 360,780.3 L420,780.3 C445,780.4 460,782 466.5,785.3" fill="none" stroke="#111" stroke-width="1.5"/>
<!-- neck bulge 2 -->
<path d="M871,786 C874,781 878,776 884,773.8 L952,774 C960,775 966,781 970.5,787.2 L970.5,807.4 L870.5,807.4 C873,800 873.5,793 871,786 Z" fill="#3c3a3a"/>
<path d="M874.5,807.4 C876.5,798 877,784.5 884,779 C888,776.2 894,775.6 900,775.6 L940,775.6 C950,775.7 955.5,777 958,780.5 C961.5,786 961.8,798 963.2,807.4 Z" fill="url(#gBulge2)"/>
<path d="M872,786 C875,781 879,776.3 885,774.4 L950,774.6 C956,775.5 958.5,778 960,782" fill="none" stroke="#111" stroke-width="1.4"/>
<!-- outline -->
<path d="M104.5,768.8 L300,766.3 L490,764.7 L580,764.3 L860,761.5 L946,760.1 L1036,760.6 C1041,761.6 1045.5,762.8 1049.8,764.3 C1055,766.5 1059.5,770 1063.8,774 C1068,778 1071.5,782 1074,786.4 C1075.6,790.5 1076.4,795 1076.7,798.7 C1077.2,803 1077.3,807 1077.2,811.6 C1077.1,817 1076.7,822 1076.1,826.6 C1075.7,830.5 1075.1,834.5 1074.5,837.9 L1065.9,836.8 C1063.5,836.3 1061.5,835.6 1060,834.7 C1061,831 1061.2,829 1061.1,826.6 C1060.8,824.3 1060.3,822.2 1059.5,820.2 C1058.5,817.6 1057,815.3 1055.2,813.2 C1053.3,811.3 1051.1,809.9 1048.7,808.9 C1046,807.8 1043.2,807.3 1040.2,807.1 L580,807.3 L300,807.7 L178,808.7 C150,806 118,792 104.5,768.8 Z" fill="none" stroke="#111" stroke-width="1.7" stroke-linejoin="round"/>
<!-- curved line on head -->
<path d="M987.5,760.6 C996,766.5 1003,775 1007.7,783.5" fill="none" stroke="#111" stroke-width="1.8"/>
<!-- bridge: top face, front face, end face -->
<path d="M947.2,749.2 L959.6,749.2 C970,755 980,764 988,773 L979.1,773 C971,764 960,755 947.2,749.2 Z" fill="url(#gBridgeTop)" stroke="#111" stroke-width="1" stroke-linejoin="round"/>
<path d="M947.2,749.2 C960,755 971,764 979.1,773 L979.1,782.2 C971,773 960,765 947.2,759.8 Z" fill="url(#gBridge)" stroke="#111" stroke-width="1" stroke-linejoin="round"/>
<rect x="979.1" y="773" width="8.9" height="9.2" fill="#8c8a8a" stroke="#111" stroke-width="1"/>
<!-- foot -->
<path d="M381.3,808 C382.5,812 383.6,814 383.3,815.8 C382.8,818.5 379,819 376.5,821.5 C373,825 378,828.2 388.5,828.2 C399.5,828.2 404.5,825 401.5,821.5 C399,819 394.8,818.5 394.2,815.8 C394,814 394.5,812 395.3,808 Z" fill="url(#gFoot)" stroke="#222" stroke-width="1"/>
<!-- pegs -->
<g fill="url(#gPeg)" stroke="#2a2a2a" stroke-width="0.9"><path d="M969.4000000000001,807.3 C969.2,812.3 967.4000000000001,816.3 967.4000000000001,822.8 C967.4000000000001,827.9 973.0,827.9 973.0,822.8 C973.0,816.3 971.2,812.3 971.0,807.3 Z"/><path d="M975.1,807.3 C974.9,812.3 973.1,816.3 973.1,824.0999999999999 C973.1,829.1999999999999 978.6999999999999,829.1999999999999 978.6999999999999,824.0999999999999 C978.6999999999999,816.3 976.9,812.3 976.6999999999999,807.3 Z"/><path d="M981.0,807.3 C980.8,812.3 979.0,816.3 979.0,825.0 C979.0,830.1 984.5999999999999,830.1 984.5999999999999,825.0 C984.5999999999999,816.3 982.8,812.3 982.5999999999999,807.3 Z"/><path d="M986.6,807.3 C986.4,812.3 984.6,816.3 984.6,825.8 C984.6,830.9 990.1999999999999,830.9 990.1999999999999,825.8 C990.1999999999999,816.3 988.4,812.3 988.1999999999999,807.3 Z"/></g>
<!-- dims -->
<g stroke="#111" stroke-width="1.5">
<line x1="10" y1="766" x2="89.5" y2="766"/><line x1="8" y1="813" x2="87.5" y2="813"/>
<line x1="160.5" y1="824" x2="160.5" y2="892.5"/>
<line x1="1073.7" y1="838" x2="1073.7" y2="866"/>
<line x1="1049.3" y1="758.3" x2="1131.3" y2="758.3"/><line x1="1090" y1="840" x2="1148.7" y2="840"/>
</g>
<line x1="54.5" y1="771" x2="54.5" y2="781" stroke="#111" stroke-width="1.3"/>
<line x1="54.5" y1="798" x2="54.5" y2="808" stroke="#111" stroke-width="1.3"/>
<use href="#ahm" transform="translate(54.5,766.5)" fill="#111"/>
<use href="#ahm" transform="translate(54.5,812.5) rotate(180)" fill="#111"/>
<text x="54.2" y="795" font-size="13.2" text-anchor="middle">5.1</text>
<line x1="172" y1="860" x2="557" y2="860" stroke="#111" stroke-width="1.5"/>
<line x1="635" y1="859.5" x2="1058" y2="859.5" stroke="#111" stroke-width="1.5"/>
<use href="#ahb" transform="translate(166,860) rotate(-90)" fill="#111"/>
<use href="#ahb" transform="translate(1063.5,859.5) rotate(90)" fill="#111"/>
<text x="591" y="863.8" font-size="13.2" text-anchor="middle">120.5</text>
<line x1="959.6" y1="749" x2="1143.5" y2="745.8" stroke="#111" stroke-width="1.8" stroke-dasharray="3.2,4.4"/>
<line x1="1102.6" y1="764" x2="1102.6" y2="784.5" stroke="#111" stroke-width="1.5"/>
<line x1="1102.6" y1="806" x2="1102.6" y2="832" stroke="#111" stroke-width="1.5"/>
<use href="#ah7" transform="translate(1102.6,758.5)" fill="#111"/>
<use href="#ah7" transform="translate(1102.6,838.5) rotate(180)" fill="#111"/>
<line x1="1142.6" y1="753" x2="1142.6" y2="778.7" stroke="#111" stroke-width="1.5"/>
<line x1="1142.6" y1="801" x2="1142.6" y2="830" stroke="#111" stroke-width="1.5"/>
<use href="#ah7" transform="translate(1142.6,748.3)" fill="#111"/>
<use href="#ah7" transform="translate(1142.6,835.5) rotate(180)" fill="#111"/>
<text x="1103.4" y="800.8" font-size="17.6" text-anchor="middle">8.2</text>
<text x="1144.2" y="795.4" font-size="17.6" text-anchor="middle">9.5</text>
<text x="930.3" y="755.8" font-size="12.6" text-anchor="middle">1.3</text>
<text x="987.4" y="798.9" font-size="12.6" text-anchor="middle">1.2</text>
<line x1="944.7" y1="751.5" x2="944.7" y2="757" stroke="#111" stroke-width="0.8"/>
<use href="#ahx" transform="translate(944.7,748.6)" fill="#111"/>
<use href="#ahx" transform="translate(944.7,759.8) rotate(180)" fill="#111"/>
<line x1="981" y1="783.4" x2="986.5" y2="783.4" stroke="#111" stroke-width="0.8"/>
<use href="#ahx" transform="translate(978.8,783.4) rotate(-90)" fill="#111"/>
<use href="#ahx" transform="translate(988.4,783.4) rotate(90)" fill="#111"/>
</g>
<!--SIDEVIEW-->
</svg>
</body></html>
